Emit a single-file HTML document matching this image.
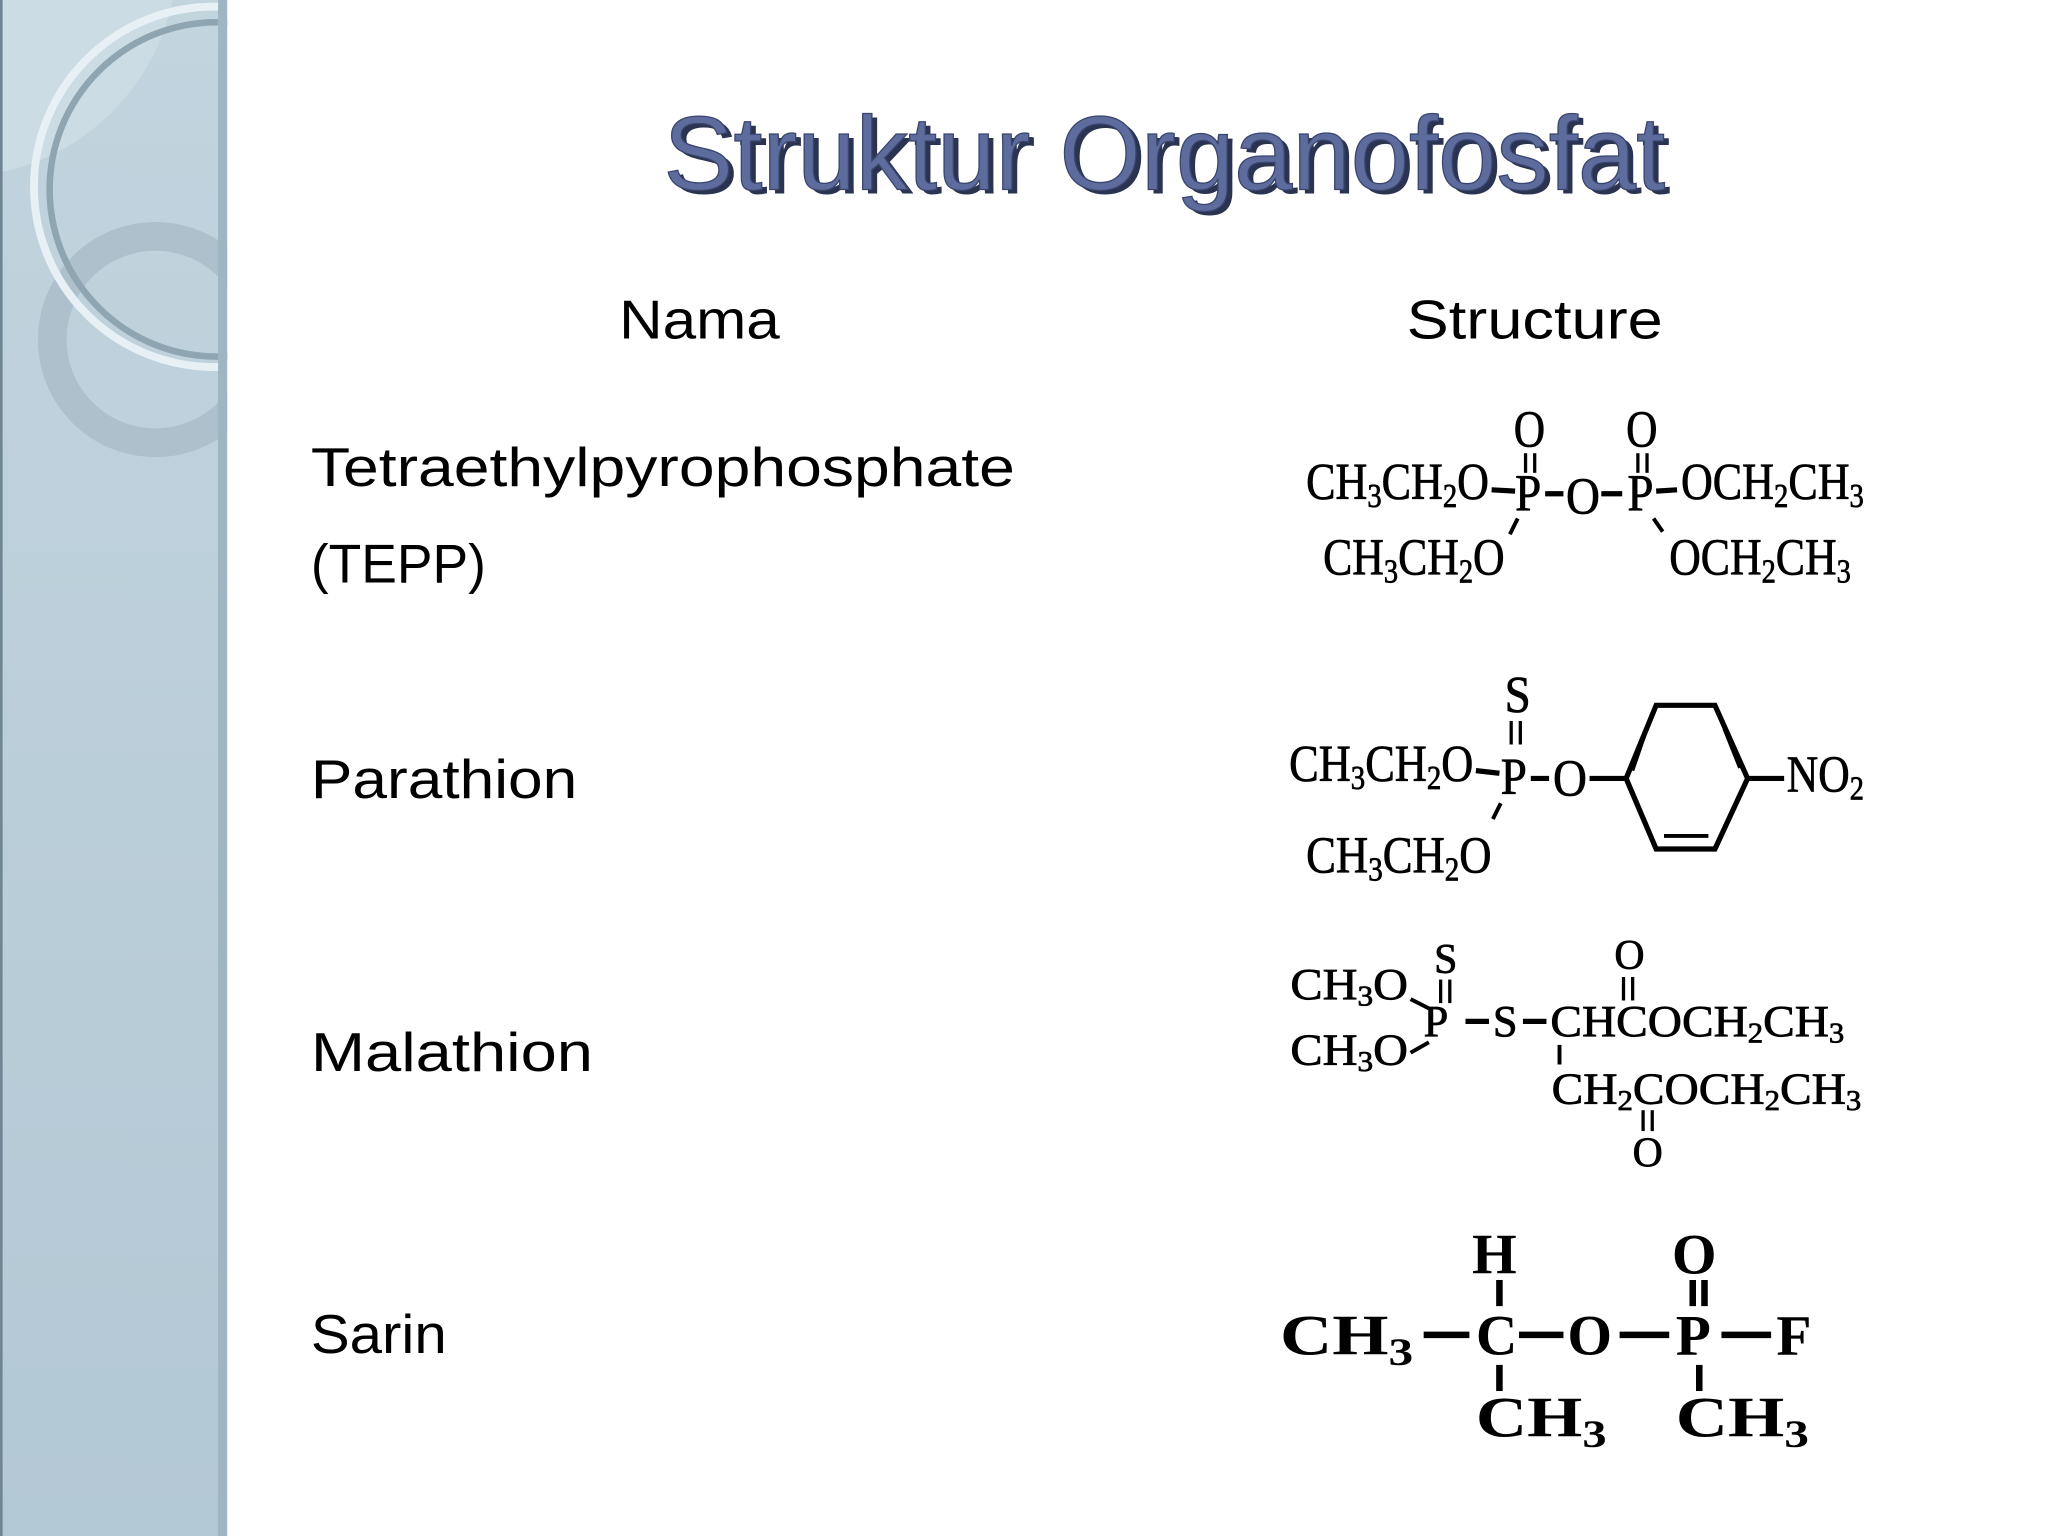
<!DOCTYPE html>
<html><head><meta charset="utf-8"><style>html,body{margin:0;padding:0;background:#fff}svg{display:block}</style></head><body>
<svg width="2048" height="1536" viewBox="0 0 1568 1176" xmlns="http://www.w3.org/2000/svg">
<defs>
<clipPath id="pc"><rect x="0" y="0" width="174" height="1176"/></clipPath>
<linearGradient id="pg" x1="0" y1="0" x2="0" y2="1"><stop offset="0" stop-color="#c2d4de"/><stop offset="1" stop-color="#b3c8d5"/></linearGradient>
</defs>
<rect width="1568" height="1176" fill="#fff"/>
<g clip-path="url(#pc)">
<rect x="0" y="0" width="174" height="1176" fill="url(#pg)"/>
<path d="M0 0 H132 A170 170 0 0 1 0 132 Z" fill="#d0dfe7" opacity="0.7"/>
<circle cx="119" cy="260" r="79" fill="none" stroke="#a9bcc8" stroke-width="22" opacity="0.8"/>
<circle cx="164" cy="143" r="138" fill="none" stroke="#e6f0f5" stroke-width="6"/>
<circle cx="166" cy="145" r="128" fill="none" stroke="#8fa5b2" stroke-width="5"/>
<rect x="167" y="0" width="7" height="1176" fill="#9fb5c2"/>
</g>
<rect x="0" y="0" width="2" height="1176" fill="#6f8593"/>
<text x="512" y="148" font-family="Liberation Sans, sans-serif" font-size="80" fill="#2a3450" textLength="767" lengthAdjust="spacingAndGlyphs">Struktur Organofosfat</text>
<text x="508" y="145" font-family="Liberation Sans, sans-serif" font-size="80" fill="#5d6c9c" stroke="#3a4670" stroke-width="1" textLength="767" lengthAdjust="spacingAndGlyphs">Struktur Organofosfat</text>
<g font-family="Liberation Sans, sans-serif" font-size="42" fill="#000">
<text x="474" y="259" textLength="123" lengthAdjust="spacingAndGlyphs">Nama</text>
<text x="1077" y="259" textLength="196" lengthAdjust="spacingAndGlyphs">Structure</text>
<text x="238" y="372" textLength="539" lengthAdjust="spacingAndGlyphs">Tetraethylpyrophosphate</text>
<text x="238" y="446" textLength="134" lengthAdjust="spacingAndGlyphs">(TEPP)</text>
<text x="238" y="611" textLength="204" lengthAdjust="spacingAndGlyphs">Parathion</text>
<text x="238" y="820" textLength="216" lengthAdjust="spacingAndGlyphs">Malathion</text>
<text x="238" y="1036" textLength="104" lengthAdjust="spacingAndGlyphs">Sarin</text>
</g>
<g font-family="Liberation Serif, serif" font-size="40" fill="#000" stroke="#000" stroke-width="0.6">
<text x="1000" y="382" textLength="140" lengthAdjust="spacingAndGlyphs">CH<tspan font-size="26" dy="6">3</tspan><tspan dy="-6">CH</tspan><tspan font-size="26" dy="6">2</tspan><tspan dy="-6">O</tspan></text>
<text x="1160" y="391" textLength="20" lengthAdjust="spacingAndGlyphs">P</text>
<text x="1199" y="393" textLength="26" lengthAdjust="spacingAndGlyphs">O</text>
<text x="1246" y="391" textLength="20" lengthAdjust="spacingAndGlyphs">P</text>
<text x="1159" y="342" textLength="24" lengthAdjust="spacingAndGlyphs">O</text>
<text x="1245" y="342" textLength="24" lengthAdjust="spacingAndGlyphs">O</text>
<text x="1287" y="382" textLength="140" lengthAdjust="spacingAndGlyphs">OCH<tspan font-size="26" dy="6">2</tspan><tspan dy="-6">CH</tspan><tspan font-size="26" dy="6">3</tspan></text>
<text x="1013" y="440" textLength="139" lengthAdjust="spacingAndGlyphs">CH<tspan font-size="26" dy="6">3</tspan><tspan dy="-6">CH</tspan><tspan font-size="26" dy="6">2</tspan><tspan dy="-6">O</tspan></text>
<text x="1278" y="440" textLength="139" lengthAdjust="spacingAndGlyphs">OCH<tspan font-size="26" dy="6">2</tspan><tspan dy="-6">CH</tspan><tspan font-size="26" dy="6">3</tspan></text>
<text x="1152" y="545" textLength="20" lengthAdjust="spacingAndGlyphs">S</text>
<text x="987" y="598" textLength="141" lengthAdjust="spacingAndGlyphs">CH<tspan font-size="26" dy="6">3</tspan><tspan dy="-6">CH</tspan><tspan font-size="26" dy="6">2</tspan><tspan dy="-6">O</tspan></text>
<text x="1149" y="608" textLength="20" lengthAdjust="spacingAndGlyphs">P</text>
<text x="1189" y="609" textLength="26" lengthAdjust="spacingAndGlyphs">O</text>
<text x="1368" y="606" textLength="59" lengthAdjust="spacingAndGlyphs">NO<tspan font-size="26" dy="6">2</tspan></text>
<text x="1000" y="668" textLength="142" lengthAdjust="spacingAndGlyphs">CH<tspan font-size="26" dy="6">3</tspan><tspan dy="-6">CH</tspan><tspan font-size="26" dy="6">2</tspan><tspan dy="-6">O</tspan></text>
<text x="1098" y="745" font-size="32">S</text>
<text x="988" y="765" font-size="34" textLength="90" lengthAdjust="spacingAndGlyphs">CH<tspan font-size="22" dy="5">3</tspan><tspan dy="-5">O</tspan></text>
<text x="988" y="815" font-size="34" textLength="90" lengthAdjust="spacingAndGlyphs">CH<tspan font-size="22" dy="5">3</tspan><tspan dy="-5">O</tspan></text>
<text x="1090" y="793" font-size="34">P</text>
<text x="1143" y="793" font-size="34">S</text>
<text x="1187" y="793" font-size="34" textLength="225" lengthAdjust="spacingAndGlyphs">CHCOCH<tspan font-size="22" dy="5">2</tspan><tspan dy="-5">CH</tspan><tspan font-size="22" dy="5">3</tspan></text>
<text x="1236" y="742" font-size="32">O</text>
<text x="1188" y="845" font-size="34" textLength="237" lengthAdjust="spacingAndGlyphs">CH<tspan font-size="22" dy="5">2</tspan><tspan dy="-5">COCH</tspan><tspan font-size="22" dy="5">2</tspan><tspan dy="-5">CH</tspan><tspan font-size="22" dy="5">3</tspan></text>
<text x="1250" y="893" font-size="32">O</text>
</g>
<g stroke="#000" stroke-width="4" fill="none">
<line x1="1142" y1="375" x2="1160" y2="376"/>
<line x1="1183" y1="378" x2="1197" y2="378"/>
<line x1="1226" y1="378" x2="1242" y2="378"/>
<line x1="1268" y1="376" x2="1284" y2="375"/>
<line x1="1168" y1="347" x2="1168" y2="362" stroke-width="2.5"/>
<line x1="1175" y1="347" x2="1175" y2="362" stroke-width="2.5"/>
<line x1="1254" y1="347" x2="1254" y2="362" stroke-width="2.5"/>
<line x1="1261" y1="347" x2="1261" y2="362" stroke-width="2.5"/>
<line x1="1162" y1="397" x2="1156" y2="409" stroke-width="3"/>
<line x1="1266" y1="397" x2="1273" y2="407" stroke-width="3"/>
<line x1="1130" y1="590" x2="1148" y2="592"/>
<line x1="1157" y1="552" x2="1157" y2="570" stroke-width="2.5"/>
<line x1="1164" y1="552" x2="1164" y2="570" stroke-width="2.5"/>
<line x1="1172" y1="596" x2="1186" y2="596"/>
<line x1="1217" y1="596" x2="1245" y2="596"/>
<polygon points="1268,540 1313,540 1338,596 1313,650 1268,650 1245,596"/>
<line x1="1261" y1="558" x2="1250" y2="590" stroke-width="2.5"/>
<line x1="1320" y1="558" x2="1332" y2="588" stroke-width="2.5"/>
<line x1="1274" y1="640" x2="1308" y2="640" stroke-width="3"/>
<line x1="1338" y1="596" x2="1366" y2="596"/>
<line x1="1149" y1="615" x2="1143" y2="627" stroke-width="3"/>
<line x1="1080" y1="765" x2="1094" y2="772" stroke-width="3"/>
<line x1="1080" y1="806" x2="1094" y2="798" stroke-width="3"/>
<line x1="1103" y1="750" x2="1103" y2="768" stroke-width="2.5"/>
<line x1="1110" y1="750" x2="1110" y2="768" stroke-width="2.5"/>
<line x1="1122" y1="782" x2="1140" y2="782"/>
<line x1="1166" y1="782" x2="1184" y2="782"/>
<line x1="1243" y1="748" x2="1243" y2="766" stroke-width="2.5"/>
<line x1="1250" y1="748" x2="1250" y2="766" stroke-width="2.5"/>
<line x1="1194" y1="800" x2="1194" y2="815" stroke-width="3"/>
<line x1="1258" y1="850" x2="1258" y2="866" stroke-width="2.5"/>
<line x1="1265" y1="850" x2="1265" y2="866" stroke-width="2.5"/>
</g>
<g font-family="Liberation Serif, serif" font-weight="bold" font-size="44" fill="#000">
<text x="980" y="1037" textLength="102" lengthAdjust="spacingAndGlyphs">CH<tspan font-size="30" dy="8">3</tspan></text>
<text x="1130" y="1037">C</text>
<text x="1200" y="1037">O</text>
<text x="1283" y="1037">P</text>
<text x="1360" y="1037">F</text>
<text x="1127" y="975">H</text>
<text x="1280" y="975">O</text>
<text x="1130" y="1100" textLength="100" lengthAdjust="spacingAndGlyphs">CH<tspan font-size="30" dy="8">3</tspan></text>
<text x="1283" y="1100" textLength="102" lengthAdjust="spacingAndGlyphs">CH<tspan font-size="30" dy="8">3</tspan></text>
</g>
<g stroke="#000" stroke-width="5">
<line x1="1090" y1="1022" x2="1125" y2="1022"/>
<line x1="1163" y1="1022" x2="1197" y2="1022"/>
<line x1="1240" y1="1022" x2="1278" y2="1022"/>
<line x1="1318" y1="1022" x2="1356" y2="1022"/>
<line x1="1148" y1="980" x2="1148" y2="1000"/>
<line x1="1148" y1="1045" x2="1148" y2="1065"/>
<line x1="1296" y1="980" x2="1296" y2="1000"/>
<line x1="1305" y1="980" x2="1305" y2="1000"/>
<line x1="1301" y1="1045" x2="1301" y2="1065"/>
</g>
</svg>
</body></html>
